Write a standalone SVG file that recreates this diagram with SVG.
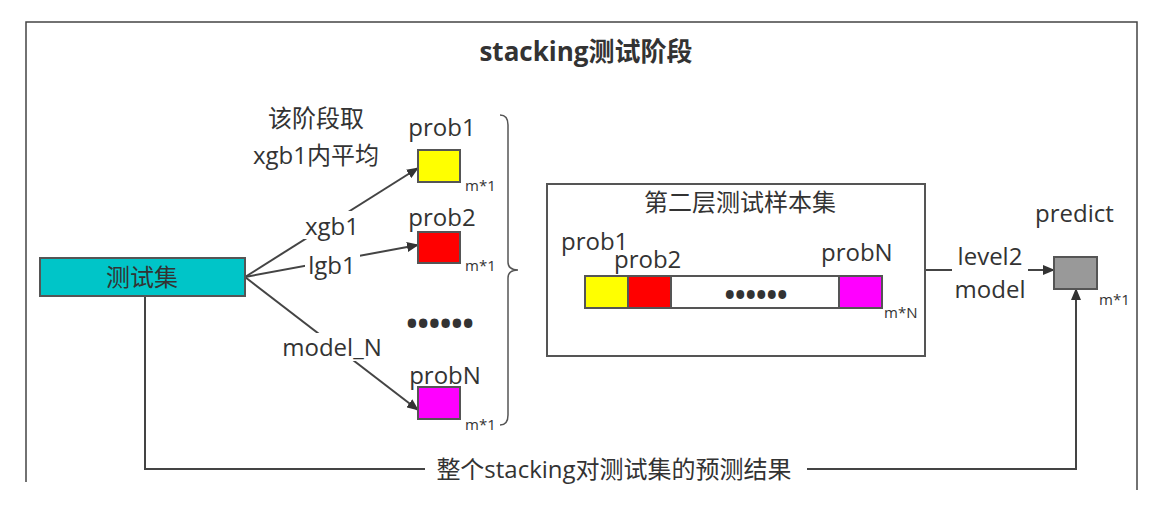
<svg xmlns="http://www.w3.org/2000/svg" width="1171" height="531" viewBox="0 0 1171 531">
<defs>
<marker id="ah" markerWidth="12" markerHeight="10" refX="11" refY="5" orient="auto" markerUnits="userSpaceOnUse"><path d="M0,0 L12,5 L0,10 Z" fill="#333"/></marker>
<style>
text{font-family:"Open Sans","Noto Sans CJK SC",sans-serif;fill:#333}
.l{font-size:24px}
.s{font-size:15px}
.ln{stroke:#444;stroke-width:2;fill:none}
.bx{stroke:#555;stroke-width:2}
</style>
</defs>
<rect width="1171" height="531" fill="#fff"/>
<path d="M26,482 V22 H1137 V490" fill="none" stroke="#444" stroke-width="1.5"/>
<text x="586" y="61" text-anchor="middle" font-size="26" font-weight="bold">stacking测试阶段</text>
<g id="connectors">
<path class="ln" d="M245,277 L418,168" marker-end="url(#ah)"/>
<path class="ln" d="M245,277 L418,245" marker-end="url(#ah)"/>
<path class="ln" d="M245,277 L418,410" marker-end="url(#ah)"/>
<path class="ln" d="M925,270 L1054,270" marker-end="url(#ah)"/>
<path class="ln" d="M145,296 V469 H1076 V289" marker-end="url(#ah)"/>
<path d="M500,115 Q508,115 508,125 V262 Q508,270 518,270 Q508,270 508,278 V415 Q508,425 500,425" fill="none" stroke="#555" stroke-width="1.5"/>
<rect x="296" y="211" width="72" height="28" fill="#fff"/>
<rect x="305" y="252" width="55" height="28" fill="#fff"/>
<rect x="270" y="333" width="125" height="28" fill="#fff"/>
<rect x="952" y="244" width="76" height="60" fill="#fff"/>
<rect x="425" y="455" width="382" height="28" fill="#fff"/>
<text class="l" x="332" y="235" text-anchor="middle">xgb1</text>
<text class="l" x="332" y="274" text-anchor="middle">lgb1</text>
<text class="l" x="332" y="356" text-anchor="middle">model_N</text>
<text class="l" x="990" y="265" text-anchor="middle">level2</text>
<text class="l" x="990" y="298" text-anchor="middle">model</text>
<text class="l" x="614" y="478" text-anchor="middle">整个stacking对测试集的预测结果</text>
</g>
<g id="test-set"><rect class="bx" x="40" y="258" width="205" height="38" fill="#00c5c8"/><text class="l" x="142" y="286" text-anchor="middle">测试集</text></g>
<text class="l" x="316" y="127" text-anchor="middle">该阶段取</text>
<text class="l" x="316" y="164" text-anchor="middle">xgb1内平均</text>
<g id="prob1"><rect class="bx" x="418" y="150" width="42" height="32" fill="#ffff00"/><text class="l" x="442" y="136" text-anchor="middle">prob1</text><text class="s" x="465" y="191">m*1</text></g>
<g id="prob2"><rect class="bx" x="418" y="232" width="42" height="31" fill="#f00"/><text class="l" x="442" y="226" text-anchor="middle">prob2</text><text class="s" x="465" y="271">m*1</text></g>
<text x="440" y="334" text-anchor="middle" font-size="30" font-weight="bold">••••••</text>
<g id="probN"><rect class="bx" x="418" y="387" width="42" height="32" fill="#f0f"/><text class="l" x="445" y="384" text-anchor="middle">probN</text><text class="s" x="465" y="430">m*1</text></g>
<g id="level2-set">
<rect class="bx" x="547" y="184" width="378" height="172" fill="#fff"/>
<text class="l" x="740" y="211" text-anchor="middle">第二层测试样本集</text>
<rect class="bx" x="585" y="276" width="297" height="32" fill="#fff"/>
<rect class="bx" x="585" y="276" width="43" height="32" fill="#ffff00"/>
<rect class="bx" x="628" y="276" width="43" height="32" fill="#f00"/>
<rect class="bx" x="839" y="276" width="43" height="32" fill="#f0f"/>
<text x="756" y="305" text-anchor="middle" font-size="28" font-weight="bold">••••••</text>
<text class="l" x="561" y="250">prob1</text>
<text class="l" x="614" y="268">prob2</text>
<text class="l" x="821" y="261">probN</text>
<text class="s" x="884" y="318">m*N</text>
</g>
<g id="predict"><rect class="bx" x="1054" y="257" width="43" height="32" fill="#999"/><text class="l" x="1035" y="222">predict</text><text class="s" x="1099" y="305">m*1</text></g>
</svg>
